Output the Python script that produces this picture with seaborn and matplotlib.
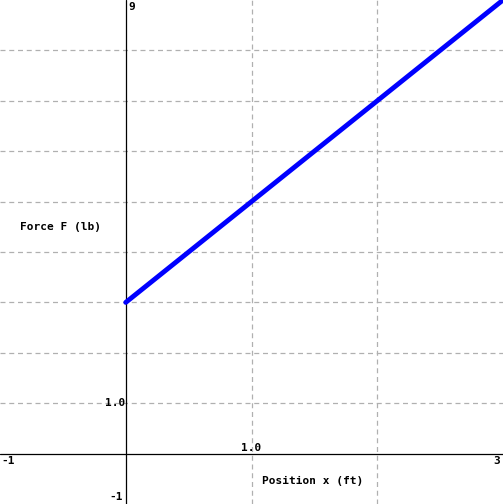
import matplotlib
matplotlib.use("Agg")
import matplotlib.pyplot as plt
import numpy as np
import seaborn as sns

sns.set_theme(style="white")
plt.rcParams["font.family"] = ["DejaVu Sans Mono"]

# line data
pos_x = [0, 3]
force_f = [3, 9]
x_range = (-1, 3)
y_range = (-1, 9)

fig = plt.figure(figsize=(5.03, 5.04), dpi=100)
ax = fig.add_axes([0, 0, 1, 1])
ax.set_xlim(*x_range)
ax.set_ylim(*y_range)

for gx in [1, 2]:
    ax.axvline(gx, color="#b0b0b0", ls=(0, (4, 3)), lw=0.9)
for gy in range(0, 9):
    if gy != 0:
        ax.axhline(gy, color="#b0b0b0", ls=(0, (4, 3)), lw=0.9)
ax.axhline(0, color="black", lw=0.9)
ax.axvline(0, color="black", lw=0.9)

sns.lineplot(x=pos_x, y=force_f, ax=ax, color="#0000ff", lw=3.5)

for s in ax.spines.values():
    s.set_visible(False)
ax.set_xticks([])
ax.set_yticks([])

kw = dict(fontsize=8, fontweight="bold", color="black")
ax.text(0.02, 8.97, "9", ha="left", va="top", **kw)
ax.text(0.0, 1.0, "1.0", ha="right", va="center", **kw)
ax.text(-0.99, -0.05, "-1", ha="left", va="top", **kw)
ax.text(2.98, -0.05, "3", ha="right", va="top", **kw)
ax.text(1.0, 0.02, "1.0", ha="center", va="bottom", **kw)
ax.text(-0.02, -0.97, "-1", ha="right", va="bottom", **kw)
ax.text(-0.84, 4.5, "Force F (lb)", ha="left", va="center", **kw)
ax.text(1.08, -0.55, "Position x (ft)", ha="left", va="center", **kw)

fig.savefig("out.png", dpi=100, facecolor="white")
